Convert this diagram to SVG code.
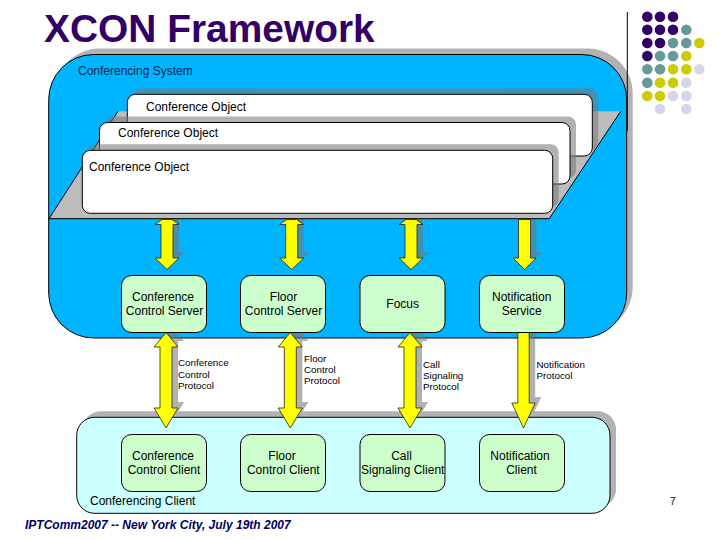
<svg xmlns="http://www.w3.org/2000/svg" width="720" height="540" viewBox="0 0 720 540">
<style>
text{font-family:"Liberation Sans",Arial,sans-serif;fill:#000}
.t{font-size:12px}
.c{font-size:12px;text-anchor:middle}
.l{font-size:9.8px}
.edge{stroke:#000;stroke-width:1}
.sh{fill:#777;opacity:.57}
.sh2{fill:#b2b2b2}
.obj{fill:#fff;stroke:#000;stroke-width:1}
.node{fill:#ccffcc;stroke:#000;stroke-width:1}
.arrow{fill:#ffff00;stroke:#222;stroke-width:.8}
.p{fill:#330066}.g{fill:#669999}.y{fill:#cccc00}.v{fill:#d6d6ea}
</style>
<defs>
<polygon id="topDouble" points="-5,219.5 5,219.5 12,224.5 6,224.5 6,258 12,258 0,269.5 -12,258 -6,258 -6,224.5 -12,224.5"/>
<polygon id="topSingle" points="-6,219.5 6,219.5 6,258 11.5,258 0,269.5 -11.5,258 -6,258"/>
<polygon id="midDouble" points="0,332.5 12,347 6,347 6,408 12,408 0,428 -12,408 -6,408 -6,347 -12,347"/>
<polygon id="midSingle" points="-5.7,332.5 5.7,332.5 5.7,403 11.7,403 0,428 -11.7,403 -5.7,403"/>
</defs>
<text x="44" y="42" font-weight="bold" style="font-size:38.9px;fill:#330066">XCON Framework</text>

<g id="conferencing-system">
<rect class="sh2" x="54.7" y="48.5" width="578" height="283.5" rx="45"/>
<rect class="edge" x="48.7" y="54.5" width="578" height="283.5" rx="45" fill="#00b4ff"/>
</g>
<g id="connector-shadows-upper" class="sh">
<use href="#topDouble" transform="translate(173,-6)"/>
<use href="#topDouble" transform="translate(297.7,-6)"/>
<use href="#topDouble" transform="translate(417,-6)"/>
<use href="#topSingle" transform="translate(530.5,-6)"/>
</g>
<g id="conference-objects">
<polygon points="49,218.7 118,111.3 620.7,111.3 549.3,218.7" fill="#bcbcbc"/>
<polyline class="edge" fill="none" points="118,111.3 49,218.7 549.3,218.7 620.7,111.3"/>
<g id="object-1">
<rect class="sh" x="133.3" y="88.3" width="465" height="61.7" rx="8"/>
<rect class="obj" x="127.3" y="94.3" width="465" height="61.7" rx="8"/>
<text class="t" x="146" y="111">Conference Object</text>
</g>
<g id="object-2">
<rect class="sh" x="105.5" y="116.5" width="470.5" height="61.5" rx="8"/>
<rect class="obj" x="99.5" y="122.5" width="470.5" height="61.5" rx="8"/>
<text class="t" x="118" y="137">Conference Object</text>
</g>
<g id="object-3">
<rect class="sh" x="88.3" y="144.3" width="470.4" height="63" rx="8"/>
<rect class="obj" x="82.3" y="150.3" width="470.4" height="63" rx="8"/>
<text class="t" x="89" y="171">Conference Object</text>
</g>
</g>
<text class="t" x="78" y="75" style="fill:#00264d">Conferencing System</text>

<g id="connector-shadows-lower" class="sh">
<use href="#midDouble" transform="translate(172,-6)"/>
<use href="#midDouble" transform="translate(296.3,-6)"/>
<use href="#midDouble" transform="translate(416,-6)"/>
<use href="#midSingle" transform="translate(529.5,-6)"/>
</g>
<g id="conferencing-client">
<rect class="sh2" x="82.7" y="411.3" width="533.3" height="96" rx="18"/>
<rect class="edge" x="76.7" y="417.3" width="533.3" height="96" rx="18" fill="#ccffff"/>
<text class="t" x="90" y="505">Conferencing Client</text>
</g>
<g id="connectors" class="arrow">
<use href="#topDouble" transform="translate(167,0)"/>
<use href="#topDouble" transform="translate(291.7,0)"/>
<use href="#topDouble" transform="translate(411,0)"/>
<use href="#topSingle" transform="translate(524.5,0)"/>
<use href="#midDouble" transform="translate(166,0)"/>
<use href="#midDouble" transform="translate(290.3,0)"/>
<use href="#midDouble" transform="translate(410,0)"/>
<use href="#midSingle" transform="translate(523.5,0)"/>
</g>
<g id="conference-control-server"><rect class="node" x="121.5" y="275.5" width="85" height="57" rx="10"/><text class="c" x="163" y="301">Conference</text><text class="c" x="164.5" y="315">Control Server</text></g>
<g id="floor-control-server"><rect class="node" x="240.5" y="275.5" width="85" height="57" rx="10"/><text class="c" x="283.5" y="301">Floor</text><text class="c" x="283.5" y="315">Control Server</text></g>
<g id="focus"><rect class="node" x="360" y="275.5" width="85" height="57" rx="10"/><text class="c" x="402.7" y="308">Focus</text></g>
<g id="notification-service"><rect class="node" x="479.5" y="275.5" width="85" height="57" rx="10"/><text class="c" x="521.7" y="301">Notification</text><text class="c" x="521.7" y="315">Service</text></g>
<g id="conference-control-client"><rect class="node" x="121.5" y="434.5" width="85" height="57" rx="10"/><text class="c" x="163" y="460">Conference</text><text class="c" x="164" y="474">Control Client</text></g>
<g id="floor-control-client"><rect class="node" x="240.5" y="434.5" width="85" height="57" rx="10"/><text class="c" x="282" y="460">Floor</text><text class="c" x="283.3" y="474">Control Client</text></g>
<g id="call-signaling-client"><rect class="node" x="360" y="434.5" width="85" height="57" rx="10"/><text class="c" x="401.5" y="460">Call</text><text class="c" x="402.7" y="474">Signaling Client</text></g>
<g id="notification-client"><rect class="node" x="479.5" y="434.5" width="85" height="57" rx="10"/><text class="c" x="520" y="460">Notification</text><text class="c" x="521.5" y="474">Client</text></g>

<g id="connector-labels">
<text class="l" x="178" y="366">Conference</text><text class="l" x="178" y="378">Control</text><text class="l" x="178" y="389">Protocol</text>
<text class="l" x="304" y="362">Floor</text><text class="l" x="304" y="373">Control</text><text class="l" x="304" y="384">Protocol</text>
<text class="l" x="423" y="368">Call</text><text class="l" x="423" y="379">Signaling</text><text class="l" x="423" y="390">Protocol</text>
<text class="l" x="536.5" y="368">Notification</text><text class="l" x="536.5" y="379">Protocol</text>
</g>
<line x1="627.3" y1="12" x2="627.3" y2="131" stroke="#000" stroke-width="1"/>
<g id="dots">
<circle class="p" cx="647.3" cy="16.7" r="5.3"/><circle class="p" cx="660" cy="16.7" r="5.3"/><circle class="p" cx="673" cy="16.7" r="5.3"/>
<circle class="p" cx="647.3" cy="29.7" r="5.3"/><circle class="p" cx="660" cy="29.7" r="5.3"/><circle class="p" cx="673" cy="29.7" r="5.3"/><circle class="g" cx="686.3" cy="29.7" r="5.3"/>
<circle class="p" cx="647.3" cy="43" r="5.3"/><circle class="p" cx="660" cy="43" r="5.3"/><circle class="g" cx="673" cy="43" r="5.3"/><circle class="g" cx="686.3" cy="43" r="5.3"/><circle class="y" cx="699.3" cy="43" r="5.3"/>
<circle class="p" cx="647.3" cy="56" r="5.3"/><circle class="g" cx="660" cy="56" r="5.3"/><circle class="g" cx="673" cy="56" r="5.3"/><circle class="y" cx="686.3" cy="56" r="5.3"/>
<circle class="g" cx="647.3" cy="69.3" r="5.3"/><circle class="g" cx="660" cy="69.3" r="5.3"/><circle class="y" cx="673" cy="69.3" r="5.3"/><circle class="y" cx="686.3" cy="69.3" r="5.3"/><circle class="v" cx="699.3" cy="69.3" r="5.3"/>
<circle class="g" cx="647.3" cy="82.7" r="5.3"/><circle class="y" cx="660" cy="82.7" r="5.3"/><circle class="y" cx="673" cy="82.7" r="5.3"/><circle class="v" cx="686.3" cy="82.7" r="5.3"/>
<circle class="y" cx="647.3" cy="96" r="5.3"/><circle class="y" cx="660" cy="96" r="5.3"/><circle class="v" cx="673" cy="96" r="5.3"/><circle class="v" cx="686.3" cy="96" r="5.3"/>
<circle class="v" cx="660" cy="109" r="5.3"/><circle class="v" cx="686.3" cy="109" r="5.3"/>
</g>
<text x="25" y="529" font-weight="bold" font-style="italic" style="font-size:12px;fill:#000066">IPTComm2007 -- New York City, July 19th 2007</text>
<text x="670" y="505" style="font-size:10px">7</text>
</svg>
